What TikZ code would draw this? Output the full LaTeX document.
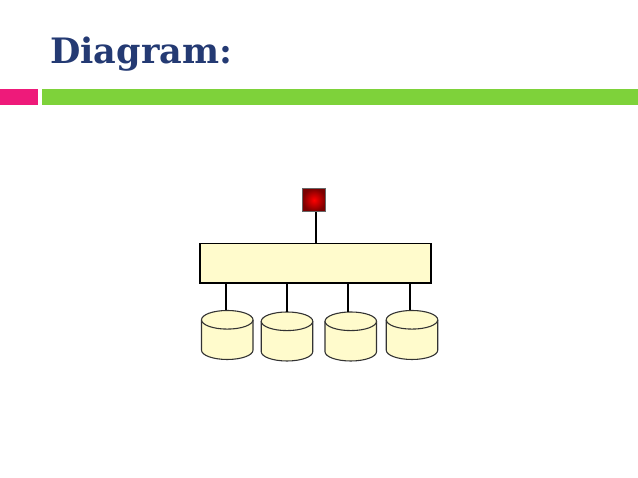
\documentclass[tikz,border=0pt]{standalone}
\usepackage{fontspec}
\setmainfont{DejaVu Serif}
\definecolor{titleblue}{HTML}{243A73}
\definecolor{barpink}{HTML}{EE1A7A}
\definecolor{bargreen}{HTML}{7ED23A}
\definecolor{boxyellow}{HTML}{FFFBCC}
\definecolor{darkred}{HTML}{7A0000}
\newcommand{\drawdrum}[1]{%
	\draw[drumline] ([yshift=-9.3pt]#1.north west) arc (180:0:25.75pt and 9.3pt)
		-- ([yshift=9.3pt]#1.south east) arc (0:-180:25.75pt and 9.3pt) -- cycle;
	\draw[drumline] ([yshift=-9.3pt]#1.north west) arc (180:360:25.75pt and 9.3pt);
}

\begin{document}
\begin{tikzpicture}[x=1pt,y=1pt,line width=1.5pt]
	\tikzstyle{bar}=[inner sep=0pt,minimum height=16pt]
	\tikzstyle{server}=[draw=black!60,inner sep=0pt,minimum width=23pt,minimum height=23pt,inner color=red,outer color=darkred,line width=0.3pt]
	\tikzstyle{hub}=[draw=black,fill=boxyellow,inner sep=0pt,minimum width=231pt,minimum height=39.5pt]
	\tikzstyle{drum}=[inner sep=0pt,outer sep=0pt,minimum width=51.5pt,minimum height=49pt]
	\tikzstyle{drumline}=[draw=black!80,fill=boxyellow,line width=1.1pt]

	\useasboundingbox (0,0) rectangle (638,478);

	\node[anchor=base west,inner sep=0pt,text=titleblue,font=\bfseries\fontsize{35}{35}\selectfont] (title) at (49.5,414) {Diagram:};
	\node[bar,fill=barpink,minimum width=39pt,anchor=west]  (pink)  at (-2,381) {};
	\node[bar,fill=bargreen,minimum width=599pt,anchor=west] (green) at (41,381) {};

	\node[server] (S) at (314,278) {};
	\node[hub]    (H) at (315.5,214.75) {};
	\node[drum]   (D1) at (227.25,143) {};
	\node[drum]   (D2) at (287,141.5) {};
	\node[drum]   (D3) at (350.75,141.5) {};
	\node[drum]   (D4) at (412,143) {};

	\drawdrum{D1}
	\drawdrum{D2}
	\drawdrum{D3}
	\drawdrum{D4}

	\coordinate (p0) at (316,266);
	\coordinate (p1) at (226,195);
	\coordinate (p2) at (287,195);
	\coordinate (p3) at (348,195);
	\coordinate (p4) at (410,195);

	\draw (p0) -- (p0 |- H.north);
	\draw (H.south -| p1) -- (p1 |- D1.north);
	\draw (H.south -| p2) -- (p2 |- D2.north);
	\draw (H.south -| p3) -- (p3 |- D3.north);
	\draw (H.south -| p4) -- (p4 |- D4.north);
\end{tikzpicture}
\end{document}
